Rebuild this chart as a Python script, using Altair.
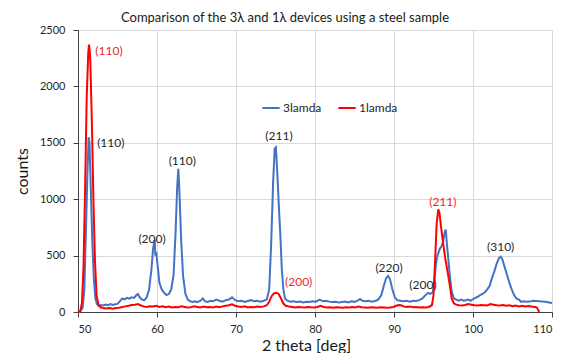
import altair as alt
import pandas as pd

series_names = ["3lamda", "1lamda"]
series_colors = ["#4472C4", "#FF0000"]

blue_x = [50.0, 50.3, 50.6, 50.8, 51.0, 51.2, 51.35, 51.45, 51.6, 51.8, 52.0, 52.2, 52.4, 52.6, 52.9, 53.2, 53.5, 53.8, 54.1, 54.4,
          54.7, 55.0, 55.3, 55.6, 55.9, 56.2, 56.5, 56.8, 57.1, 57.4, 57.6, 57.8, 58.1, 58.4, 58.7, 59.0, 59.3, 59.5, 59.7, 59.8,
          59.9, 60.1, 60.3, 60.6, 60.9, 61.2, 61.5, 61.8, 62.1, 62.35, 62.55, 62.7, 62.85, 63.05, 63.3, 63.6, 63.9, 64.2, 64.5, 64.8,
          65.1, 65.5, 65.8, 66.1, 66.4, 66.8, 67.1, 67.5, 67.9, 68.3, 68.7, 69.1, 69.5, 69.9, 70.3, 70.7, 71.1, 71.5, 71.9, 72.3,
          72.7, 73.1, 73.5, 73.9, 74.2, 74.45, 74.7, 74.9, 75.05, 75.25, 75.45, 75.6, 75.8, 76.0, 76.2, 76.5, 76.9, 77.3, 77.7, 78.1,
          78.5, 78.9, 79.3, 79.7, 80.1, 80.6, 81.0, 81.4, 81.8, 82.2, 82.6, 83.0, 83.4, 83.8, 84.2, 84.6, 85.0, 85.4, 85.7, 86.0,
          86.4, 86.8, 87.2, 87.6, 88.0, 88.4, 88.7, 89.0, 89.25, 89.5, 89.8, 90.1, 90.4, 90.8, 91.2, 91.6, 92.0, 92.4, 92.8, 93.2,
          93.6, 94.0, 94.3, 94.6, 94.9, 95.1, 95.3, 95.5, 95.8, 96.0, 96.2, 96.4, 96.55, 96.7, 96.9, 97.1, 97.3, 97.6, 97.9, 98.2,
          98.5, 98.8, 99.1, 99.4, 99.7, 100.0, 100.3, 100.6, 100.9, 101.2, 101.5, 101.8, 102.1, 102.4, 102.7, 103.0, 103.3, 103.5, 103.7, 104.0,
          104.3, 104.6, 104.9, 105.2, 105.5, 105.8, 106.1, 106.4, 106.8, 107.2, 107.6, 108.0, 108.4, 108.8, 109.2, 109.6, 110.0]
blue_y = [0, 5, 40, 200, 700, 1250, 1550, 1500, 1150, 650, 300, 120, 70, 55, 62, 58, 66, 60, 70, 63,
          68, 72, 95, 120, 112, 125, 118, 130, 125, 150, 160, 130, 110, 105, 130, 200, 380, 560, 640, 500,
          530, 400, 260, 200, 170, 150, 160, 200, 330, 700, 1100, 1270, 1050, 650, 320, 160, 110, 95, 90, 95,
          88, 100, 120, 95, 90, 100, 95, 110, 100, 92, 105, 110, 130, 105, 95, 100, 90, 98, 105, 95,
          100, 92, 100, 110, 200, 600, 1150, 1450, 1460, 1200, 900, 700, 380, 200, 120, 100, 92, 95, 88, 92,
          85, 90, 88, 95, 92, 110, 95, 100, 92, 88, 90, 85, 88, 92, 85, 95, 90, 100, 115, 100,
          95, 100, 92, 98, 110, 150, 230, 300, 320, 290, 200, 130, 105, 100, 95, 100, 92, 100, 98, 105,
          120, 150, 170, 160, 175, 250, 420, 500, 560, 580, 620, 700, 730, 600, 450, 300, 180, 120, 110, 100,
          110, 100, 105, 110, 100, 115, 125, 135, 150, 160, 175, 200, 230, 300, 360, 430, 480, 490, 470, 400,
          330, 260, 200, 150, 120, 110, 90, 95, 90, 92, 100, 98, 95, 92, 90, 85, 80]

red_x = [50.0, 50.3, 50.5, 50.7, 50.9, 51.1, 51.3, 51.4, 51.55, 51.75, 51.95, 52.15, 52.35, 52.6, 52.9, 53.2, 53.6, 54.0, 54.4, 54.8,
         55.2, 55.6, 56.0, 56.4, 56.8, 57.2, 57.6, 57.9, 58.3, 58.7, 59.1, 59.5, 59.9, 60.3, 60.7, 61.1, 61.5, 61.9, 62.3, 62.7,
         63.1, 63.5, 63.9, 64.3, 64.7, 65.1, 65.5, 65.9, 66.3, 66.7, 67.1, 67.5, 67.9, 68.3, 68.7, 69.1, 69.5, 69.9, 70.3, 70.7,
         71.1, 71.5, 71.9, 72.3, 72.7, 73.1, 73.5, 73.9, 74.2, 74.5, 74.8, 75.1, 75.4, 75.7, 76.0, 76.3, 76.7, 77.1, 77.5, 77.9,
         78.3, 78.7, 79.1, 79.5, 79.9, 80.3, 80.7, 81.1, 81.5, 81.9, 82.3, 82.7, 83.1, 83.5, 83.9, 84.3, 84.7, 85.1, 85.5, 85.9,
         86.3, 86.7, 87.1, 87.5, 87.9, 88.3, 88.7, 89.1, 89.5, 89.9, 90.3, 90.6, 90.9, 91.2, 91.6, 92.0, 92.4, 92.8, 93.2, 93.6,
         94.0, 94.4, 94.8, 95.0, 95.2, 95.4, 95.6, 95.75, 95.95, 96.2, 96.5, 96.8, 97.1, 97.3, 97.6, 97.9, 98.2, 98.6, 99.0, 99.4,
         99.8, 100.2, 100.6, 101.0, 101.4, 101.8, 102.2, 102.6, 103.0, 103.4, 103.8, 104.2, 104.6, 105.0, 105.4, 105.8, 106.2, 106.6, 107.0, 107.4,
         107.8, 108.1, 108.3, 108.4]
red_y = [0, 10, 80, 400, 1100, 1900, 2300, 2370, 2250, 1700, 1000, 450, 150, 60, 40, 35, 32, 35, 30, 35,
         38, 45, 50, 55, 62, 65, 70, 60, 50, 45, 50, 48, 55, 45, 50, 42, 48, 40, 45, 42,
         50, 45, 40, 42, 50, 45, 40, 48, 42, 45, 40, 48, 42, 50, 55, 60, 68, 55, 48, 45,
         50, 40, 45, 42, 48, 45, 50, 60, 90, 140, 165, 170, 160, 120, 75, 55, 48, 45, 40, 45,
         42, 40, 45, 42, 40, 45, 55, 45, 40, 42, 38, 42, 40, 38, 42, 40, 45, 40, 48, 42,
         40, 38, 42, 40, 38, 42, 40, 38, 40, 45, 55, 62, 60, 50, 45, 48, 42, 45, 40, 42,
         40, 45, 60, 150, 450, 780, 910, 880, 760, 620, 470, 350, 220, 120, 75, 65, 60, 58, 62, 70,
         65, 60, 58, 62, 60, 58, 70, 65, 60, 58, 62, 55, 60, 52, 58, 50, 55, 48, 52, 48,
         45, 40, 10, 0]

ann_text = ["(110)", "(110)", "(110)", "(200)", "(211)", "(200)", "(220)", "(200)", "(211)", "(310)"]
ann_series = ["1lamda", "3lamda", "3lamda", "3lamda", "3lamda", "1lamda", "3lamda", "3lamda", "1lamda", "3lamda"]
ann_x = [53.92, 54.15, 63.2, 59.37, 75.44, 77.93, 89.37, 93.67, 96.18, 103.5]
ann_y = [2314, 1501, 1339, 644, 1563, 269, 393, 239, 978, 579]

FONT = "Lato"

df = pd.concat([
    pd.DataFrame({"x": blue_x, "y": blue_y, "series": series_names[0], "order": range(len(blue_x))}),
    pd.DataFrame({"x": red_x, "y": red_y, "series": series_names[1], "order": range(len(red_x))}),
], ignore_index=True)

ann = pd.DataFrame({"text": ann_text, "x": ann_x, "y": ann_y, "series": ann_series})
ann["tcolor"] = ["#E8282B" if s == "1lamda" else "#262626" for s in ann_series]

xscale = alt.Scale(domain=[50, 110], nice=False)
yscale = alt.Scale(domain=[0, 2500], nice=False)

lines = alt.Chart(df).mark_line(strokeWidth=2).encode(
    x=alt.X("x:Q", scale=xscale, title="2 theta [deg]",
            axis=alt.Axis(values=[50, 60, 70, 80, 90, 100, 110], titleX=228, titleY=33,
                          titleBaseline="middle", titleAlign="center")),
    y=alt.Y("y:Q", scale=yscale, title="counts",
            axis=alt.Axis(values=[0, 500, 1000, 1500, 2000, 2500], format="d", titleX=-56, titleY=141,
                          titleBaseline="middle", titleAlign="center")),
    color=alt.Color("series:N", scale=alt.Scale(domain=series_names, range=series_colors),
                    legend=alt.Legend(title=None, orient="none", legendX=183, legendY=68,
                                      direction="horizontal", symbolType="stroke",
                                      symbolStrokeWidth=2, symbolSize=300, labelFontSize=12,
                                      labelFont=FONT, labelColor="#262626", columnPadding=12,
                                      padding=0, labelOffset=2)),
    detail="series:N",
    order="order:Q",
)

texts = alt.Chart(ann).mark_text(fontSize=12, font=FONT, align="center", baseline="middle").encode(
    x=alt.X("x:Q", scale=xscale),
    y=alt.Y("y:Q", scale=yscale),
    text="text:N",
    color=alt.Color("tcolor:N", scale=None),
)

chart = alt.layer(lines, texts).properties(
    width=474, height=282,
    title=alt.TitleParams("Comparison of the 3λ and 1λ devices using a steel sample",
                          fontSize=13, font=FONT, fontWeight="normal", color="#1a1a1a",
                          anchor="middle", dx=-30, offset=-1),
    autosize=alt.AutoSizeParams(type="none"),
    padding={"left": 70, "top": 22, "right": 13, "bottom": 41},
).configure_view(stroke=None).configure_axis(
    grid=True, gridColor="#d9d9d9", gridWidth=1,
    domainColor="#404040", tickColor="#404040", tickSize=5,
    labelFont=FONT, labelFontSize=11, labelColor="#262626",
    titleFont=FONT, titleFontSize=16, titleFontWeight="normal", titleColor="#1a1a1a",
).configure_axisY(labelPadding=8).configure_axisX(labelPadding=6)

chart.save("out.html", embed_options={"renderer": "svg", "actions": False})
